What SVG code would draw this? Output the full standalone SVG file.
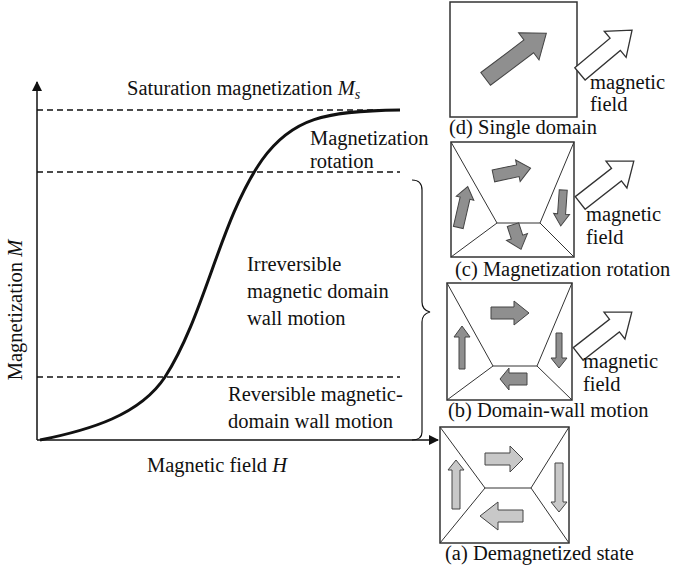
<svg xmlns="http://www.w3.org/2000/svg" width="685" height="569" viewBox="0 0 685 569">
<style>
text{font-family:"Liberation Serif",serif;font-size:20.5px;fill:#111}
.box{fill:#fff;stroke:#333;stroke-width:1.5}
.w{stroke:#333;stroke-width:1;fill:none}
.g{fill:#8f8f8f;stroke:#444;stroke-width:1}
.l{fill:#c8c8c8;stroke:#444;stroke-width:1}
.o{fill:#fff;stroke:#333;stroke-width:1.3}
.d{stroke:#111;stroke-width:1.5;stroke-dasharray:6,4;fill:none}
</style>
<defs>
<marker id="ah" markerWidth="10" markerHeight="10" refX="9" refY="5" orient="auto" markerUnits="userSpaceOnUse"><path d="M0,0 L10,5 L0,10 z" fill="#111"/></marker>
</defs>
<g id="connectors">
<line x1="37" y1="440" x2="37" y2="82" stroke="#111" stroke-width="1.5" marker-end="url(#ah)"/>
<line x1="37" y1="440" x2="438" y2="440" stroke="#111" stroke-width="1.5" marker-end="url(#ah)"/>
<line class="d" x1="37" y1="110" x2="400" y2="110"/>
<line class="d" x1="37" y1="172" x2="400" y2="172"/>
<line class="d" x1="37" y1="377" x2="400" y2="377"/>
<path d="M40,440 C90,430 140,415 165,377 C205,315 220,220 262,160 C292,118 325,111 400,110" fill="none" stroke="#111" stroke-width="3"/>
<path d="M412,180 Q422,180 422,190 L422,302 Q422,310 430,312 Q422,314 422,322 L422,432 Q422,440 412,440" fill="none" stroke="#111" stroke-width="1.2"/>
</g>
<g id="graph-labels">
<text x="127" y="95">Saturation magnetization <tspan font-style="italic">M</tspan><tspan font-style="italic" font-size="14" dy="4">s</tspan></text>
<text x="310" y="145">Magnetization</text>
<text x="310" y="168">rotation</text>
<text x="247" y="271">Irreversible</text>
<text x="247" y="298">magnetic domain</text>
<text x="247" y="325">wall motion</text>
<text x="228" y="401">Reversible magnetic-</text>
<text x="228" y="428">domain wall motion</text>
<text x="147" y="472">Magnetic field <tspan font-style="italic">H</tspan></text>
<text transform="translate(22,310) rotate(-90)" text-anchor="middle">Magnetization <tspan font-style="italic">M</tspan></text>
</g>
<g id="d">
<rect class="box" x="450" y="2" width="127" height="115"/>
<polygon class="g" transform="translate(516,56) rotate(-37)" points="-38,-8 16,-8 16,-17 38,0 16,17 16,8 -38,8"/>
<polygon class="o" transform="translate(606,52) rotate(-40)" points="-34,-8 12,-8 12,-17 34,0 12,17 12,8 -34,8"/>
<text x="590" y="89">magnetic</text><text x="590" y="111">field</text>
<text x="449" y="134">(d) Single domain</text>
</g>
<g id="c">
<rect class="box" x="451" y="142" width="123" height="115"/>
<path class="w" d="M451,142 L497,223 L540,223 L574,142 M451,257 L497,223 M574,257 L540,223"/>
<polygon class="g" transform="translate(512,172) rotate(-12)" points="-19,-6 6,-6 6,-11 19,0 6,11 6,6 -19,6"/>
<polygon class="g" transform="translate(463,207) rotate(-77)" points="-21,-5 9,-5 9,-9 21,0 9,9 9,5 -21,5"/>
<polygon class="g" transform="translate(562,208) rotate(94)" points="-18,-4 6,-4 6,-8 18,0 6,8 6,4 -18,4"/>
<polygon class="g" transform="translate(517,237) rotate(72)" points="-13,-6 0,-6 0,-11 13,0 0,11 0,6 -13,6"/>
<polygon class="o" transform="translate(607,182) rotate(-38)" points="-34,-8 12,-8 12,-17 34,0 12,17 12,8 -34,8"/>
<text x="586" y="221">magnetic</text><text x="586" y="244">field</text>
<text x="455" y="276">(c) Magnetization rotation</text>
</g>
<g id="b">
<rect class="box" x="447" y="283" width="125" height="117"/>
<path class="w" d="M447,283 L493,366 L537,366 L572,283 M447,400 L493,366 M572,400 L537,366"/>
<polygon class="g" points="491,307 514,307 514,301 529,313 514,325 514,319 491,319"/>
<polygon class="g" points="459,369 459,337 454,337 462,326 470,337 465,337 465,369"/>
<polygon class="g" points="556,333 562,333 562,358 567,358 559,368 551,358 556,358"/>
<polygon class="g" points="527,373 527,385 509,385 509,390 500,379 509,368 509,373"/>
<polygon class="o" transform="translate(605,333) rotate(-38)" points="-34,-8 12,-8 12,-17 34,0 12,17 12,8 -34,8"/>
<text x="583" y="368">magnetic</text><text x="583" y="391">field</text>
<text x="448" y="417">(b) Domain-wall motion</text>
</g>
<g id="a">
<rect class="box" x="440" y="427" width="129" height="116"/>
<path class="w" d="M440,427 L485,488 L531,488 L569,427 M440,543 L485,488 M569,543 L531,488"/>
<polygon class="l" points="485,453 510,453 510,446 523,459 510,472 510,465 485,465"/>
<polygon class="l" points="452,509 452,470 448,470 456,460 464,470 460,470 460,509"/>
<polygon class="l" points="555,463 563,463 563,502 567,502 559,512 551,502 555,502"/>
<polygon class="l" points="523,510 523,522 498,522 498,530 480,516 498,502 498,510"/>
<text x="445" y="560">(a) Demagnetized state</text>
</g>
</svg>
